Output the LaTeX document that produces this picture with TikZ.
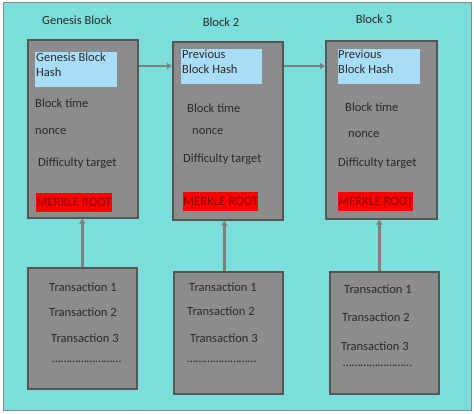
\documentclass[tikz,border=0pt]{standalone}
\usepackage{fontspec}
\setmainfont{Carlito}
\usetikzlibrary{arrows.meta}
\definecolor{bgcyan}{HTML}{7CDEDB}
\definecolor{boxgray}{HTML}{8C8C8C}
\definecolor{edgegray}{HTML}{555555}
\definecolor{hashblue}{HTML}{A8DDF8}
\definecolor{txtdark}{HTML}{2A2A2A}
\definecolor{mred}{HTML}{FF0000}
\definecolor{mtext}{HTML}{8A0000}
\definecolor{arrgray}{HTML}{7F7F7F}
\tikzset{
  blockbox/.style={draw=edgegray,line width=1.6pt,fill=boxgray,anchor=north west,inner sep=0pt},
  hashbox/.style={fill=hashblue,anchor=north west,inner sep=0pt},
  merklebox/.style={fill=mred,anchor=north west,inner sep=0pt,text=mtext,font=\fontsize{12.8}{13}\selectfont,align=center},
  lbl/.style={anchor=west,text=txtdark,font=\fontsize{12.5}{14}\selectfont,inner sep=0pt},
  hlbl/.style={anchor=north west,text=txtdark,font=\fontsize{12.5}{14.5}\selectfont,inner sep=0pt,align=left},
  title/.style={text=txtdark,font=\fontsize{12.5}{14}\selectfont,inner sep=0pt},
  link/.style={draw=arrgray,line width=2.4pt,-{Triangle[length=5pt,width=6pt]}},
}
\begin{document}
\begin{tikzpicture}[x=1pt,y=-1pt]
\useasboundingbox (0,0) rectangle (474,414);
\node[draw=edgegray!70,line width=0.8pt,fill=bgcyan,anchor=north west,inner sep=0pt,minimum width=468pt,minimum height=408pt] (bg) at (3,2) {};
% titles
\node[title] (tt1) at (77,20) {Genesis Block};
\node[title] (tt2) at (221,22) {Block 2};
\node[title] (tt3) at (374,19) {Block 3};
% blocks
\node[blockbox,minimum width=110pt,minimum height=178pt] (b1) at (27,39) {};
\node[blockbox,minimum width=110pt,minimum height=178pt] (b2) at (172,41) {};
\node[blockbox,minimum width=111pt,minimum height=178pt] (b3) at (325,40) {};
% hash boxes
\node[hashbox,minimum width=82pt,minimum height=35pt] (h1) at (35,52) {};
\node[hashbox,minimum width=81pt,minimum height=35pt] (h2) at (181,49) {};
\node[hashbox,minimum width=82pt,minimum height=35pt] (h3) at (338,49) {};
\node[hlbl] (h1t) at (36,53) {Genesis Block\\Hash};
\node[hlbl] (h2t) at (182,50) {Previous\\Block Hash};
\node[hlbl] (h3t) at (338,50) {Previous\\Block Hash};
% fields
\node[lbl] (bt1) at (35,103) {Block time};
\node[lbl] (n1) at (35,132) {nonce};
\node[lbl] (d1) at (38,163) {Difficulty target};
\node[lbl] (bt2) at (187,108) {Block time};
\node[lbl] (n2) at (192,132) {nonce};
\node[lbl] (d2) at (183,159) {Difficulty target};
\node[lbl] (bt3) at (345,107) {Block time};
\node[lbl] (n3) at (348,135) {nonce};
\node[lbl] (d3) at (338,163) {Difficulty target};
% merkle roots
\node[merklebox,minimum width=76pt,minimum height=19pt] (m1) at (36,193) {MERKLE ROOT};
\node[merklebox,minimum width=75pt,minimum height=19pt] (m2) at (183,192) {MERKLE ROOT};
\node[merklebox,minimum width=75pt,minimum height=19pt] (m3) at (338,192) {MERKLE ROOT};
% transaction boxes
\node[blockbox,minimum width=109pt,minimum height=121pt] (t1) at (27,267) {};
\node[blockbox,minimum width=109pt,minimum height=122pt] (t2) at (173,271) {};
\node[blockbox,minimum width=109pt,minimum height=122pt] (t3) at (329,271) {};
\node[lbl] (t1a) at (49,287) {Transaction 1};
\node[lbl] (t1b) at (49,312) {Transaction 2};
\node[lbl] (t1c) at (51,338) {Transaction 3};
\node[lbl] (t1d) at (52,362) {……………………};
\node[lbl] (t2a) at (189,287) {Transaction 1};
\node[lbl] (t2b) at (187,311) {Transaction 2};
\node[lbl] (t2c) at (190,338) {Transaction 3};
\node[lbl] (t2d) at (187,362) {……………………};
\node[lbl] (t3a) at (344,289) {Transaction 1};
\node[lbl] (t3b) at (342,317) {Transaction 2};
\node[lbl] (t3c) at (341,346) {Transaction 3};
\node[lbl] (t3d) at (343,366) {……………………};
% connectors
\draw[link] ([yshift=-27pt]b1.north east) -- ([yshift=-27pt]b1.north east -| b2.west);
\draw[link] ([yshift=-25pt]b2.north east) -- ([yshift=-25pt]b2.north east -| b3.west);
\draw[link] (t1.north) -- (t1.north |- b1.south);
\draw[link] ([xshift=-4pt]t2.north) -- ([xshift=-4pt]t2.north |- b2.south);
\draw[link] ([xshift=-5pt]t3.north) -- ([xshift=-5pt]t3.north |- b3.south);
\end{tikzpicture}
\end{document}
